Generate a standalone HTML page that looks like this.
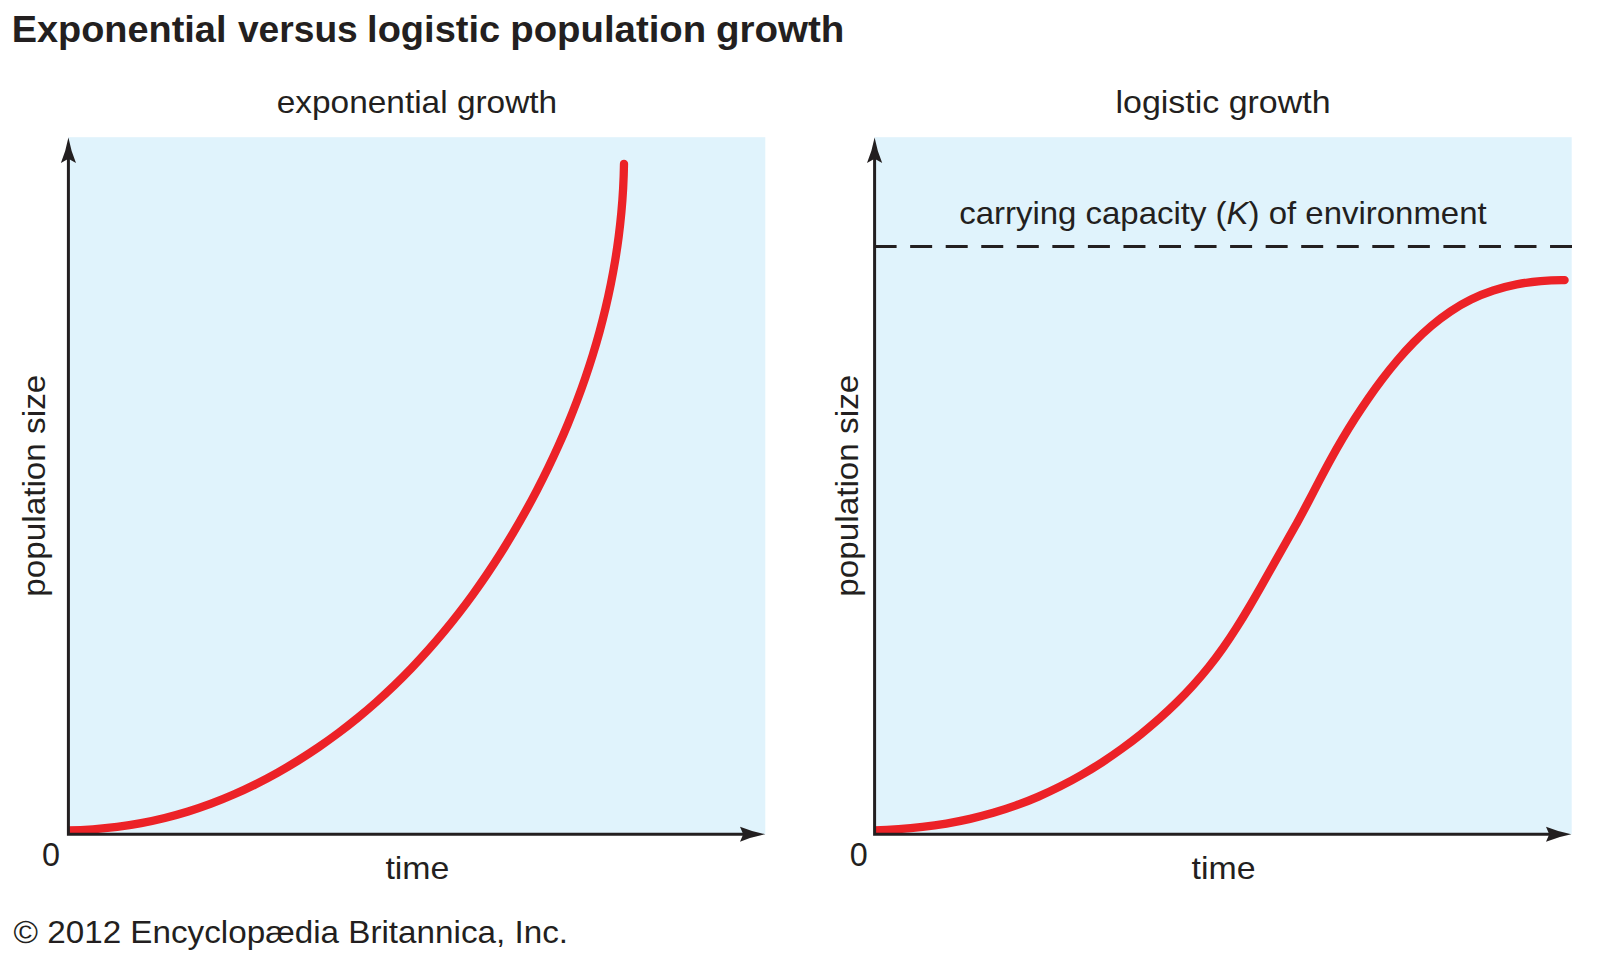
<!DOCTYPE html>
<html lang="en">
<head>
<meta charset="utf-8">
<title>Exponential versus logistic population growth</title>
<style>
  html, body { margin: 0; padding: 0; background: #ffffff; }
  body { width: 1600px; height: 958px; overflow: hidden; }
  svg { display: block; }
  text { font-family: "Liberation Sans", sans-serif; fill: #231f20; }
  .title { font-weight: bold; font-size: 37.5px; }
  .lbl { font-size: 32px; }
</style>
</head>
<body>
<svg width="1600" height="958" viewBox="0 0 1600 958">
  <defs>
    <clipPath id="clipL"><rect x="68.4" y="137.2" width="696.9" height="697.05"/></clipPath>
    <clipPath id="clipR"><rect x="874.6" y="137.2" width="697.1" height="697.05"/></clipPath>
  </defs>
  <rect x="0" y="0" width="1600" height="958" fill="#ffffff"/>

  <!-- title -->
  <text class="title" y="41.70"><tspan x="11.72" textLength="214.72" lengthAdjust="spacingAndGlyphs">Exponential</tspan> <tspan x="237.95" textLength="119.82" lengthAdjust="spacingAndGlyphs">versus</tspan> <tspan x="367.09" textLength="133.12" lengthAdjust="spacingAndGlyphs">logistic</tspan> <tspan x="510.27" textLength="195.85" lengthAdjust="spacingAndGlyphs">population</tspan> <tspan x="715.92" textLength="128.47" lengthAdjust="spacingAndGlyphs">growth</tspan></text>

  <!-- left panel -->
  <rect x="68.4" y="137.2" width="696.9" height="697.05" fill="#e0f3fc"/>
  <path d="M68.40,830.30 C76.57,830.21 84.72,829.89 92.84,829.32 C100.95,828.76 109.04,827.97 117.08,826.94 C125.13,825.91 133.13,824.65 141.08,823.16 C149.04,821.67 156.94,819.95 164.79,818.01 C172.64,816.06 180.43,813.89 188.15,811.51 C195.87,809.12 203.53,806.51 211.12,803.68 C218.70,800.85 226.21,797.81 233.64,794.56 C241.07,791.32 248.43,787.87 255.70,784.24 C262.97,780.61 270.16,776.80 277.27,772.81 C284.37,768.83 291.39,764.68 298.32,760.38 C305.25,756.08 312.09,751.62 318.82,747.02 C325.55,742.42 332.18,737.68 338.69,732.80 C345.20,727.93 351.60,722.92 357.88,717.79 C364.15,712.66 370.32,707.40 376.36,702.02 C382.41,696.65 388.34,691.15 394.17,685.54 C399.99,679.94 405.70,674.22 411.30,668.39 C416.89,662.56 422.38,656.63 427.76,650.60 C433.14,644.57 438.41,638.44 443.58,632.21 C448.74,625.99 453.80,619.67 458.75,613.27 C463.71,606.87 468.56,600.38 473.30,593.81 C478.05,587.24 482.69,580.59 487.23,573.87 C491.77,567.14 496.21,560.35 500.56,553.48 C504.90,546.62 509.14,539.69 513.29,532.70 C517.43,525.71 521.48,518.66 525.43,511.55 C529.38,504.44 533.24,497.28 536.99,490.07 C540.74,482.85 544.39,475.59 547.94,468.27 C551.49,460.95 554.93,453.59 558.26,446.17 C561.59,438.76 564.81,431.30 567.92,423.79 C571.02,416.29 574.02,408.74 576.89,401.15 C579.77,393.56 582.53,385.93 585.17,378.26 C587.80,370.59 590.32,362.88 592.71,355.13 C595.10,347.39 597.37,339.61 599.51,331.79 C601.64,323.98 603.65,316.13 605.52,308.25 C607.40,300.38 609.14,292.47 610.74,284.53 C612.34,276.60 613.81,268.64 615.14,260.65 C616.46,252.66 617.64,244.65 618.68,236.62 C619.72,228.58 620.61,220.53 621.36,212.45 C622.10,204.38 622.70,196.28 623.14,188.17 C623.58,180.07 623.87,171.94 624.00,163.80" clip-path="url(#clipL)" fill="none" stroke="#ec2227" stroke-width="8.3" stroke-linecap="round" stroke-linejoin="round"/>
  <path d="M68.4,158 V834.25 H744" fill="none" stroke="#231f20" stroke-width="3"/>
  <path d="M68.4,137.6 Q70.9,151 76,163 L68.4,158.8 L60.9,163 Q65.9,151 68.4,137.6 Z" fill="#231f20"/>
  <path d="M765.3,834.25 Q752,831.7 740,826.8 L743.2,834.25 L740,841.7 Q752,836.8 765.3,834.25 Z" fill="#231f20"/>
  <text class="lbl" x="276.70" y="113.30" textLength="280.50" lengthAdjust="spacingAndGlyphs">exponential growth</text>
  <text class="lbl" transform="translate(45.00,596.70) rotate(-90)" x="0" y="0" textLength="222.00" lengthAdjust="spacingAndGlyphs">population size</text>
  <text class="lbl" style="font-size:34px" x="42.10" y="866.20" textLength="18.00" lengthAdjust="spacingAndGlyphs">0</text>
  <text class="lbl" x="385.40" y="879.00" textLength="64.00" lengthAdjust="spacingAndGlyphs">time</text>

  <!-- right panel -->
  <rect x="874.6" y="137.2" width="697.1" height="697.05" fill="#e0f3fc"/>
  <path d="M874.6,246.5 H1572" fill="none" stroke="#231f20" stroke-width="2.8" stroke-dasharray="22 13.55"/>
  <path d="M874.60,830.30 C882.59,830.10 890.59,829.74 898.59,829.18 C906.59,828.63 914.59,827.89 922.56,826.95 C930.53,826.01 938.48,824.88 946.40,823.54 C954.31,822.19 962.19,820.64 970.00,818.86 C977.82,817.09 985.59,815.09 993.28,812.85 C1000.97,810.62 1008.58,808.15 1016.11,805.44 C1023.64,802.72 1031.08,799.77 1038.43,796.59 C1045.78,793.42 1053.04,790.02 1060.19,786.41 C1067.35,782.80 1074.41,778.99 1081.36,774.98 C1088.31,770.97 1095.15,766.77 1101.89,762.40 C1108.62,758.02 1115.24,753.47 1121.75,748.76 C1128.25,744.05 1134.64,739.18 1140.90,734.16 C1147.16,729.15 1153.29,723.99 1159.29,718.68 C1165.28,713.37 1171.13,707.91 1176.83,702.30 C1182.52,696.69 1188.05,690.93 1193.40,685.01 C1198.75,679.09 1203.93,673.02 1208.91,666.78 C1213.89,660.55 1218.66,654.15 1223.26,647.61 C1227.86,641.07 1232.28,634.40 1236.58,627.63 C1240.88,620.86 1245.05,613.99 1249.14,607.07 C1253.23,600.15 1257.24,593.17 1261.22,586.18 C1265.19,579.19 1269.13,572.18 1273.08,565.19 C1277.02,558.21 1280.99,551.26 1284.95,544.31 C1288.91,537.36 1292.85,530.41 1296.72,523.42 C1300.59,516.43 1304.37,509.37 1308.09,502.28 C1311.82,495.18 1315.50,488.06 1319.22,480.95 C1322.93,473.85 1326.68,466.77 1330.53,459.76 C1334.39,452.75 1338.33,445.81 1342.39,438.93 C1346.45,432.06 1350.62,425.25 1354.92,418.51 C1359.22,411.78 1363.65,405.12 1368.22,398.54 C1372.80,391.96 1377.52,385.46 1382.40,379.04 C1387.28,372.62 1392.33,366.30 1397.56,360.14 C1402.80,353.98 1408.22,347.99 1413.85,342.25 C1419.49,336.51 1425.34,331.02 1431.43,325.86 C1437.51,320.71 1443.84,315.88 1450.43,311.47 C1457.02,307.06 1463.87,303.06 1471.01,299.56 C1478.15,296.05 1485.59,293.06 1493.24,290.55 C1500.89,288.03 1508.74,286.01 1516.68,284.43 C1524.63,282.85 1532.66,281.72 1540.69,281.01 C1548.71,280.30 1556.72,280.01 1564.60,280.10" clip-path="url(#clipR)" fill="none" stroke="#ec2227" stroke-width="8.3" stroke-linecap="round" stroke-linejoin="round"/>
  <path d="M874.6,158 V834.25 H1550" fill="none" stroke="#231f20" stroke-width="3"/>
  <path d="M874.6,137.6 Q877.1,151 882.2,163 L874.6,158.8 L867,163 Q872.1,151 874.6,137.6 Z" fill="#231f20"/>
  <path d="M1571.3,834.25 Q1558,831.7 1546,826.8 L1549.2,834.25 L1546,841.7 Q1558,836.8 1571.3,834.25 Z" fill="#231f20"/>
  <text class="lbl" x="1115.50" y="113.30" textLength="215.00" lengthAdjust="spacingAndGlyphs">logistic growth</text>
  <text class="lbl" x="959.20" y="224.20" textLength="527.50" lengthAdjust="spacingAndGlyphs">carrying capacity (<tspan font-style="italic">K</tspan>) of environment</text>
  <text class="lbl" transform="translate(857.80,596.70) rotate(-90)" x="0" y="0" textLength="222.00" lengthAdjust="spacingAndGlyphs">population size</text>
  <text class="lbl" style="font-size:34px" x="849.80" y="866.20" textLength="18.00" lengthAdjust="spacingAndGlyphs">0</text>
  <text class="lbl" x="1191.60" y="879.00" textLength="64.00" lengthAdjust="spacingAndGlyphs">time</text>

  <!-- credit -->
  <text class="lbl" x="13.50" y="942.50" textLength="554.50" lengthAdjust="spacingAndGlyphs">© 2012 Encyclopædia Britannica, Inc.</text>
</svg>
</body>
</html>
